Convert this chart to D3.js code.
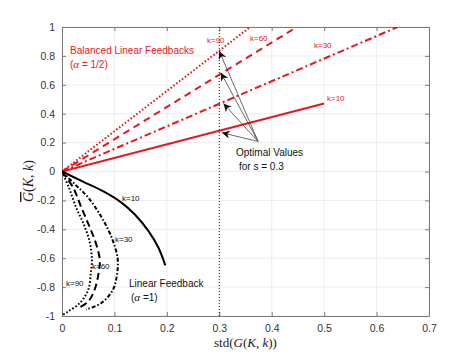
<!DOCTYPE html>
<html><head><meta charset="utf-8">
<script src="https://cdn.jsdelivr.net/npm/d3@7"></script>
<style>
html,body{margin:0;padding:0;background:#fff;}
svg{display:block;}
text{font-family:"Liberation Sans",Arial,sans-serif;}
</style></head>
<body><svg id="c" width="474" height="355"></svg>
<script>
// ---- data ----
const xTicks = [0, 0.1, 0.2, 0.3, 0.4, 0.5, 0.6, 0.7];
const yTicks = [-1, -0.8, -0.6, -0.4, -0.2, 0, 0.2, 0.4, 0.6, 0.8, 1];
const xTickLabels = ["0", "0.1", "0.2", "0.3", "0.4", "0.5", "0.6", "0.7"];
const yTickLabels = ["-1", "-0.8", "-0.6", "-0.4", "-0.2", "0", "0.2", "0.4", "0.6", "0.8", "1"];

// Balanced linear feedbacks (alpha = 1/2), red straight lines from origin
const redK = ["k=10", "k=30", "k=60", "k=90"];
const redEndX = [0.5, 0.64, 0.448, 0.359];
const redEndY = [0.47, 1, 1, 1];

// Linear feedback (alpha = 1), black curves
const blackK = ["k=10", "k=30", "k=60", "k=90"];
const blackK10 = [[0,0],[0.04,-0.07],[0.08,-0.14],[0.114,-0.217],[0.139,-0.298],[0.165,-0.413],[0.184,-0.528],[0.197,-0.65]];
const blackK30 = [[0,0],[0.025,-0.09],[0.05,-0.18],[0.076,-0.32],[0.095,-0.46],[0.106,-0.60],[0.105,-0.71],[0.097,-0.82],[0.075,-0.91],[0.046,-0.955]];
const blackK60 = [[0,0],[0.021,-0.11],[0.037,-0.25],[0.051,-0.37],[0.064,-0.49],[0.072,-0.61],[0.070,-0.70],[0.062,-0.82],[0.05,-0.90],[0.031,-0.945]];
const blackK90 = [[0,0],[0.013,-0.11],[0.027,-0.25],[0.042,-0.37],[0.053,-0.49],[0.057,-0.61],[0.055,-0.70],[0.05,-0.82],[0.034,-0.91],[0.011,-0.97],[0,-0.995]];

// optimal values for s = 0.3
const sValue = 0.3;
const optX = [0.305, 0.308, 0.303, 0.300];
const optY = [0.268, 0.47, 0.683, 0.833];
const arrowFrom = [0.374, 0.208];

// ---- drawing ----
const svg = d3.select("#c");
const L = 62, R = 429, T = 27, B = 316;
const x = d3.scaleLinear().domain([0, 0.7]).range([L, R]);
const y = d3.scaleLinear().domain([-1, 1]).range([B, T]);
const red = "#e8161c";
const axisCol = "#7a7a7a";

svg.append("defs").append("clipPath").attr("id", "clip")
  .append("rect").attr("x", L).attr("y", T).attr("width", R - L).attr("height", B - T);
const mk = svg.select("defs").append("marker").attr("id", "ah")
  .attr("viewBox", "0 0 10 10").attr("refX", 10).attr("refY", 5)
  .attr("markerWidth", 10).attr("markerHeight", 8).attr("markerUnits", "userSpaceOnUse")
  .attr("orient", "auto");
mk.append("path").attr("d", "M0,0 L10,5 L0,10 L3,5 Z").attr("fill", "#111");

// grid
const grid = svg.append("g");
grid.selectAll(".gx").data(xTicks).join("line")
  .attr("x1", d => x(d)).attr("x2", d => x(d)).attr("y1", T).attr("y2", B)
  .attr("stroke", "#e8e8e8").attr("stroke-width", 0.8);
grid.selectAll(".gy").data(yTicks).join("line")
  .attr("y1", d => y(d)).attr("y2", d => y(d)).attr("x1", L).attr("x2", R)
  .attr("stroke", "#e8e8e8").attr("stroke-width", 0.8);

// axes with inward ticks
const fmtX = (d, i) => xTickLabels[i];
const fmtY = (d, i) => yTickLabels[i];
const styleAxis = g => {
  g.select(".domain").attr("stroke", axisCol).attr("stroke-width", 1);
  g.selectAll(".tick line").attr("stroke", axisCol);
  g.selectAll(".tick text").attr("fill", "#333").attr("font-size", 10.5)
    .attr("font-family", "Liberation Sans, Arial, sans-serif");
};
svg.append("g").attr("transform", `translate(0,${B})`)
  .call(d3.axisBottom(x).tickValues(xTicks).tickFormat(fmtX).tickSizeInner(-4).tickSizeOuter(0).tickPadding(9))
  .call(styleAxis);
svg.append("g").attr("transform", `translate(${L},0)`)
  .call(d3.axisLeft(y).tickValues(yTicks).tickFormat(fmtY).tickSizeInner(-4).tickSizeOuter(0).tickPadding(7))
  .call(styleAxis);
svg.append("g").attr("transform", `translate(0,${T})`)
  .call(d3.axisTop(x).tickValues(xTicks).tickFormat("").tickSizeInner(-4).tickSizeOuter(0))
  .call(styleAxis);
svg.append("g").attr("transform", `translate(${R},0)`)
  .call(d3.axisRight(y).tickValues(yTicks).tickFormat("").tickSizeInner(-4).tickSizeOuter(0))
  .call(styleAxis);

// vertical dotted line at s
svg.append("line").attr("x1", x(sValue)).attr("x2", x(sValue)).attr("y1", y(-1)).attr("y2", y(1))
  .attr("stroke", "#222").attr("stroke-width", 1).attr("stroke-dasharray", "1,2");

const plot = svg.append("g").attr("clip-path", "url(#clip)");
const redDashes = ["", "7,3,2,3", "7,5", "1.6,2"];
const blackDashes = ["", "4,2,1.5,2", "7,4", "1.6,2"];

// red lines
redK.forEach((k, i) => {
  plot.append("line")
    .attr("x1", x(0)).attr("y1", y(0)).attr("x2", x(redEndX[i])).attr("y2", y(redEndY[i]))
    .attr("stroke", red).attr("stroke-width", 2).attr("stroke-dasharray", redDashes[i]);
});

// black curves
const lineGen = d3.line().x(d => x(d[0])).y(d => y(d[1])).curve(d3.curveCatmullRom.alpha(0.5));
[blackK10, blackK30, blackK60, blackK90].forEach((s, i) => {
  plot.append("path").attr("d", lineGen(s)).attr("fill", "none")
    .attr("stroke", "#000").attr("stroke-width", 2).attr("stroke-dasharray", blackDashes[i]);
});

// arrows
optX.forEach((ox, i) => {
  svg.append("line")
    .attr("x1", x(arrowFrom[0])).attr("y1", y(arrowFrom[1]))
    .attr("x2", x(ox)).attr("y2", y(optY[i]))
    .attr("stroke", "#444").attr("stroke-width", 0.8).attr("marker-end", "url(#ah)");
});

// text annotations
const txt = (s, tx, ty, opts = {}) => svg.append("text").attr("x", tx).attr("y", ty)
  .attr("font-size", opts.size || 10).attr("fill", opts.fill || "#111").text(s);

// red k labels
const redLabelPos = [[327, 101], [314, 48], [250, 41], [207, 43]];
redK.forEach((k, i) => txt(k, redLabelPos[i][0], redLabelPos[i][1], {size: 8, fill: red}));
// black k labels
const blackLabelPos = [[122, 201], [115, 242], [92, 269], [66, 286]];
blackK.forEach((k, i) => txt(k, blackLabelPos[i][0], blackLabelPos[i][1], {size: 8}));

txt("Balanced Linear Feedbacks", 70, 54, {fill: red});
const a1 = svg.append("text").attr("x", 70).attr("y", 67.5).attr("font-size", 10).attr("fill", red);
a1.append("tspan").text("(");
a1.append("tspan").attr("font-family", "Liberation Serif, serif").attr("font-style", "italic").attr("font-size", 11).text("α");
a1.append("tspan").text(" = 1/2)");

txt("Linear Feedback", 129, 287);
const a2 = svg.append("text").attr("x", 131).attr("y", 300.5).attr("font-size", 10).attr("fill", "#111");
a2.append("tspan").text("(");
a2.append("tspan").attr("font-family", "Liberation Serif, serif").attr("font-style", "italic").attr("font-size", 11).text("α");
a2.append("tspan").text(" =1)");

txt("Optimal Values", 236, 156);
txt("for s = 0.3", 239, 169.5);

// axis labels
const xl = svg.append("text").attr("x", (L + R) / 2).attr("y", 347).attr("text-anchor", "middle")
  .attr("font-size", 13).attr("fill", "#222").style("font-family", "Liberation Serif, serif");
xl.append("tspan").text("std(");
xl.append("tspan").attr("font-style", "italic").text("G");
xl.append("tspan").text("(");
xl.append("tspan").attr("font-style", "italic").text("K");
xl.append("tspan").text(", ");
xl.append("tspan").attr("font-style", "italic").text("k");
xl.append("tspan").text("))");

const yl = svg.append("text").attr("transform", "translate(33,181) rotate(-90)").attr("text-anchor", "middle")
  .attr("font-size", 14).attr("fill", "#222").style("font-family", "Liberation Serif, serif");
yl.append("tspan").attr("font-style", "italic").style("text-decoration", "overline").text("G");
yl.append("tspan").text("(");
yl.append("tspan").attr("font-style", "italic").text("K");
yl.append("tspan").text(", ");
yl.append("tspan").attr("font-style", "italic").text("k");
yl.append("tspan").text(")");
</script>
</body></html>
